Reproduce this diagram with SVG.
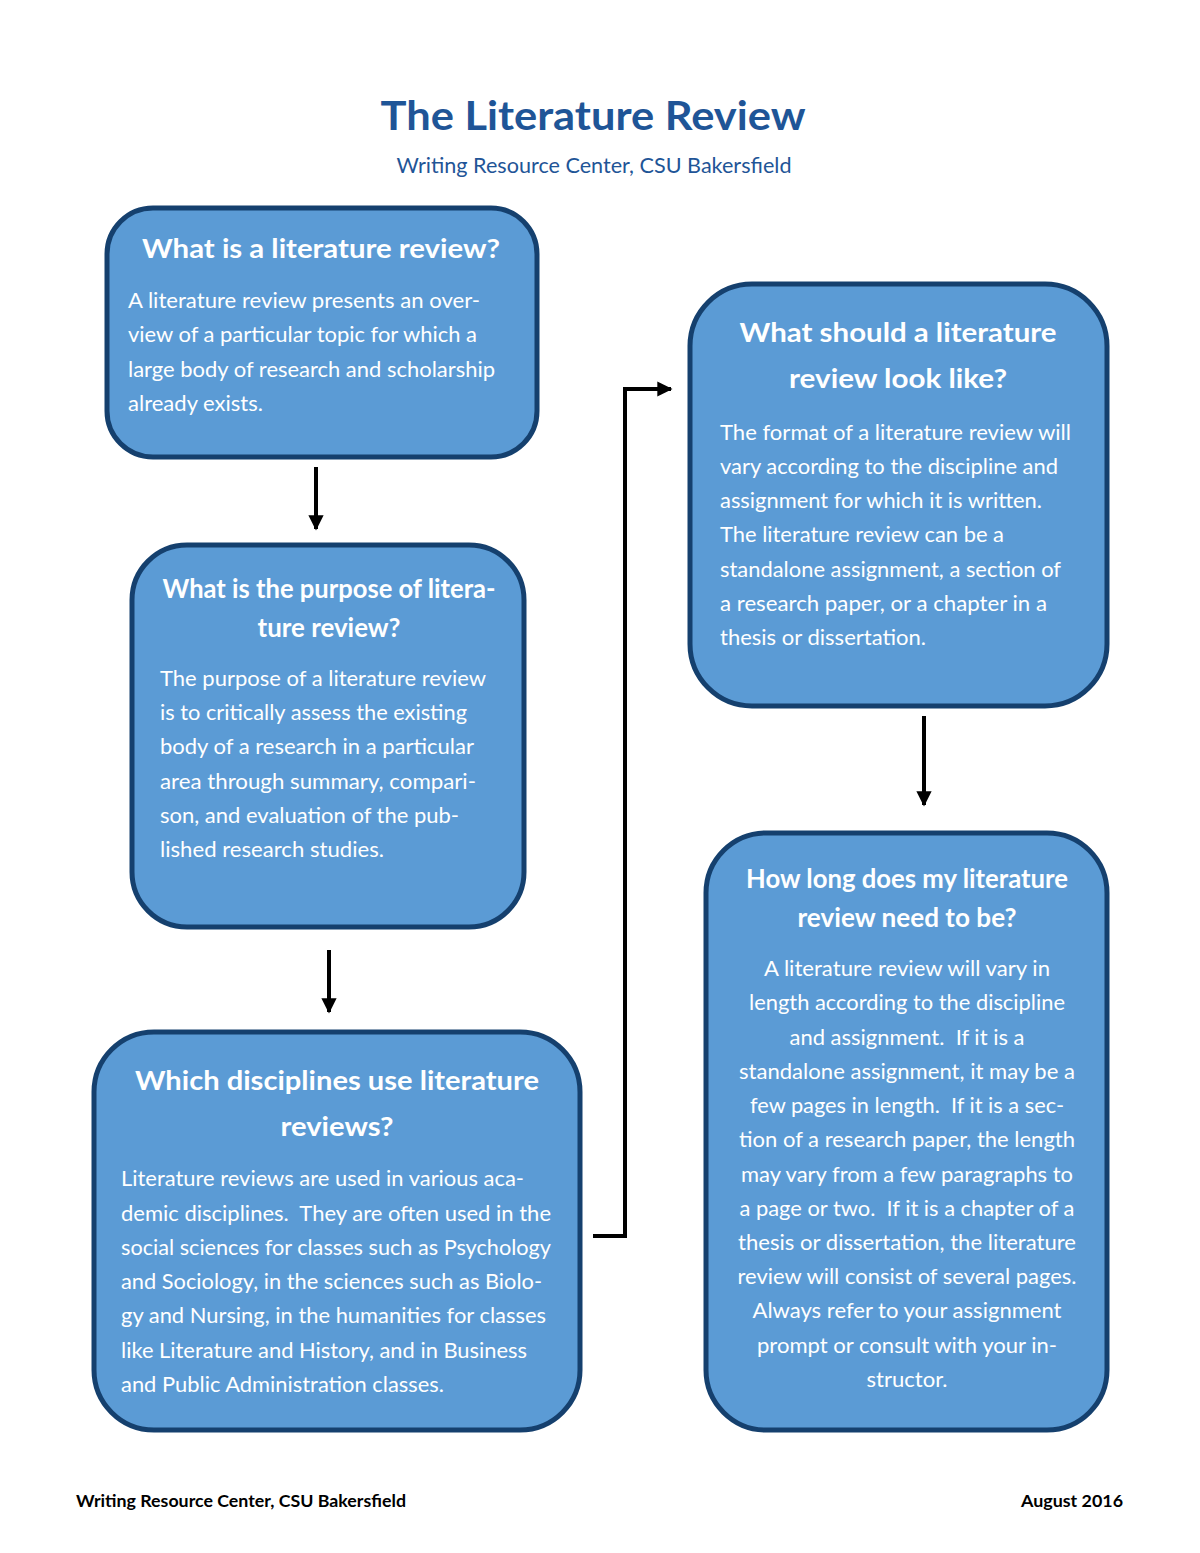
<svg xmlns="http://www.w3.org/2000/svg" width="1200" height="1553" viewBox="0 0 1200 1553" xml:space="preserve">
<defs>
<style>
.box{fill:#5b9bd5;stroke:#15406e;stroke-width:5}
.h{font-family:Lato,"Open Sans",sans-serif;font-weight:bold;fill:#fff;font-size:27px;text-anchor:middle}
.b{font-family:Lato,"Open Sans",sans-serif;fill:#fff;font-size:21px;white-space:pre}
.c{text-anchor:middle}
.title{font-family:Lato,"Open Sans",sans-serif;font-weight:bold;fill:#1f5597;text-anchor:middle}
.foot{font-family:Lato,"Open Sans",sans-serif;font-weight:bold;fill:#000;font-size:17px}
.conn{fill:none;stroke:#000;stroke-width:4}
</style>
<marker id="ah" viewBox="0 0 10 10" refX="9" refY="5" markerWidth="3.8" markerHeight="3.8" orient="auto" markerUnits="strokeWidth">
<path d="M0,0 L10,5 L0,10 z" fill="#000"/>
</marker>
</defs>
<rect width="1200" height="1553" fill="#fff"/>
<g id="header">
<text class="title" x="593" y="130" font-size="40" textLength="425" lengthAdjust="spacingAndGlyphs">The Literature Review</text>
<text class="title" x="594" y="173" font-size="21" style="font-weight:normal" textLength="395" lengthAdjust="spacingAndGlyphs">Writing Resource Center, CSU Bakersfield</text>
</g>
<g id="connectors">
<path class="conn" d="M316,467 L316,529" marker-end="url(#ah)"/>
<path class="conn" d="M329,950 L329,1012" marker-end="url(#ah)"/>
<path class="conn" d="M593,1236 L625,1236 L625,389 L671,389" marker-end="url(#ah)"/>
<path class="conn" d="M924,716 L924,805" marker-end="url(#ah)"/>
</g>
<g id="node1">
<rect class="box" x="107" y="208" width="430" height="249" rx="46"/>
<text class="h" x="321" y="258" textLength="358" lengthAdjust="spacingAndGlyphs">What is a literature review?</text>
<text class="b" x="128" y="308" textLength="352" lengthAdjust="spacingAndGlyphs">A literature review presents an over-</text>
<text class="b" x="128" y="342" textLength="349" lengthAdjust="spacingAndGlyphs">view of a particular topic for which a</text>
<text class="b" x="128" y="377" textLength="367" lengthAdjust="spacingAndGlyphs">large body of research and scholarship</text>
<text class="b" x="128" y="411" textLength="135" lengthAdjust="spacingAndGlyphs">already exists.</text>
</g>
<g id="node2">
<rect class="box" x="132" y="545" width="392" height="382" rx="55"/>
<text class="h" x="329" y="598" font-size="24" textLength="333" lengthAdjust="spacingAndGlyphs">What is the purpose of litera-</text>
<text class="h" x="329" y="637" font-size="24" textLength="143" lengthAdjust="spacingAndGlyphs">ture review?</text>
<text class="b" x="160" y="686" textLength="326" lengthAdjust="spacingAndGlyphs">The purpose of a literature review</text>
<text class="b" x="160" y="720" textLength="307" lengthAdjust="spacingAndGlyphs">is to critically assess the existing</text>
<text class="b" x="160" y="754" textLength="314" lengthAdjust="spacingAndGlyphs">body of a research in a particular</text>
<text class="b" x="160" y="789" textLength="316" lengthAdjust="spacingAndGlyphs">area through summary, compari-</text>
<text class="b" x="160" y="823" textLength="299" lengthAdjust="spacingAndGlyphs">son, and evaluation of the pub-</text>
<text class="b" x="160" y="857" textLength="224" lengthAdjust="spacingAndGlyphs">lished research studies.</text>
</g>
<g id="node3">
<rect class="box" x="94" y="1032" width="486" height="398" rx="60"/>
<text class="h" x="337" y="1090" font-size="28" textLength="404" lengthAdjust="spacingAndGlyphs">Which disciplines use literature</text>
<text class="h" x="337" y="1136" font-size="28" textLength="113" lengthAdjust="spacingAndGlyphs">reviews?</text>
<text class="b" x="121" y="1186" textLength="403" lengthAdjust="spacingAndGlyphs">Literature reviews are used in various aca-</text>
<text class="b" x="121" y="1221" textLength="430" lengthAdjust="spacingAndGlyphs">demic disciplines.  They are often used in the</text>
<text class="b" x="121" y="1255" textLength="430" lengthAdjust="spacingAndGlyphs">social sciences for classes such as Psychology</text>
<text class="b" x="121" y="1289" textLength="421" lengthAdjust="spacingAndGlyphs">and Sociology, in the sciences such as Biolo-</text>
<text class="b" x="121" y="1323" textLength="425" lengthAdjust="spacingAndGlyphs">gy and Nursing, in the humanities for classes</text>
<text class="b" x="121" y="1358" textLength="406" lengthAdjust="spacingAndGlyphs">like Literature and History, and in Business</text>
<text class="b" x="121" y="1392" textLength="323" lengthAdjust="spacingAndGlyphs">and Public Administration classes.</text>
</g>
<g id="node4">
<rect class="box" x="690" y="284" width="417" height="422" rx="62"/>
<text class="h" x="898" y="342" textLength="317" lengthAdjust="spacingAndGlyphs">What should a literature</text>
<text class="h" x="898" y="388" textLength="218" lengthAdjust="spacingAndGlyphs">review look like?</text>
<text class="b" x="720" y="440" textLength="351" lengthAdjust="spacingAndGlyphs">The format of a literature review will</text>
<text class="b" x="720" y="474" textLength="338" lengthAdjust="spacingAndGlyphs">vary according to the discipline and</text>
<text class="b" x="720" y="508" textLength="322" lengthAdjust="spacingAndGlyphs">assignment for which it is written.</text>
<text class="b" x="720" y="542" textLength="284" lengthAdjust="spacingAndGlyphs">The literature review can be a</text>
<text class="b" x="720" y="577" textLength="341" lengthAdjust="spacingAndGlyphs">standalone assignment, a section of</text>
<text class="b" x="720" y="611" textLength="327" lengthAdjust="spacingAndGlyphs">a research paper, or a chapter in a</text>
<text class="b" x="720" y="645" textLength="206" lengthAdjust="spacingAndGlyphs">thesis or dissertation.</text>
</g>
<g id="node5">
<rect class="box" x="706" y="833" width="401" height="597" rx="60"/>
<text class="h" x="907" y="888" font-size="24" textLength="322" lengthAdjust="spacingAndGlyphs">How long does my literature</text>
<text class="h" x="907" y="927" font-size="24" textLength="219" lengthAdjust="spacingAndGlyphs">review need to be?</text>
<text class="b c" x="907" y="976" textLength="286" lengthAdjust="spacingAndGlyphs">A literature review will vary in</text>
<text class="b c" x="907" y="1010" textLength="316" lengthAdjust="spacingAndGlyphs">length according to the discipline</text>
<text class="b c" x="907" y="1045" textLength="235" lengthAdjust="spacingAndGlyphs">and assignment.  If it is a</text>
<text class="b c" x="907" y="1079" textLength="336" lengthAdjust="spacingAndGlyphs">standalone assignment, it may be a</text>
<text class="b c" x="907" y="1113" textLength="314" lengthAdjust="spacingAndGlyphs">few pages in length.  If it is a sec-</text>
<text class="b c" x="907" y="1147" textLength="336" lengthAdjust="spacingAndGlyphs">tion of a research paper, the length</text>
<text class="b c" x="907" y="1182" textLength="332" lengthAdjust="spacingAndGlyphs">may vary from a few paragraphs to</text>
<text class="b c" x="907" y="1216" textLength="335" lengthAdjust="spacingAndGlyphs">a page or two.  If it is a chapter of a</text>
<text class="b c" x="907" y="1250" textLength="338" lengthAdjust="spacingAndGlyphs">thesis or dissertation, the literature</text>
<text class="b c" x="907" y="1284" textLength="339" lengthAdjust="spacingAndGlyphs">review will consist of several pages.</text>
<text class="b c" x="907" y="1318" textLength="309" lengthAdjust="spacingAndGlyphs">Always refer to your assignment</text>
<text class="b c" x="907" y="1353" textLength="300" lengthAdjust="spacingAndGlyphs">prompt or consult with your in-</text>
<text class="b c" x="907" y="1387" textLength="81" lengthAdjust="spacingAndGlyphs">structor.</text>
</g>
<g id="footer">
<text class="foot" x="76" y="1507" textLength="330" lengthAdjust="spacingAndGlyphs">Writing Resource Center, CSU Bakersfield</text>
<text class="foot" x="1123" y="1507" text-anchor="end" textLength="102" lengthAdjust="spacingAndGlyphs">August 2016</text>
</g>
</svg>
